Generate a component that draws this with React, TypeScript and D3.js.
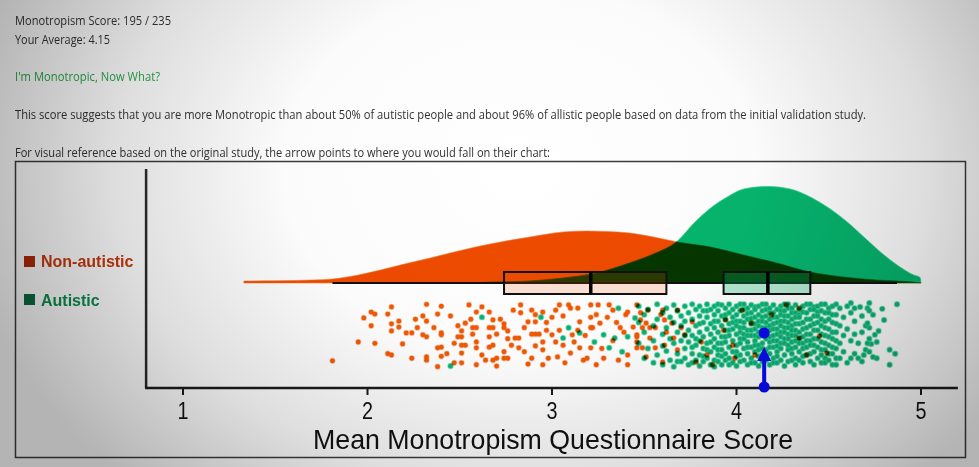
import React from 'react';
import * as d3 from 'd3';

const W = 979;
const H = 467;

const infoLines = [
  'Monotropism Score: 195 / 235',
  'Your Average: 4.15',
  "I'm Monotropic, Now What?",
  'This score suggests that you are more Monotropic than about 50% of autistic people and about 96% of allistic people based on data from the initial validation study.',
  'For visual reference based on the original study, the arrow points to where you would fall on their chart:',
];

const groupNames = ['Non-autistic', 'Autistic'];
const xTicks = [1, 2, 3, 4, 5];
const axisTitle = 'Mean Monotropism Questionnaire Score';
const userAverage = 4.15;

// density curves: [score, relative density]
const nonAutisticDensity: [number, number][] = [
  [1.33, 0.02], [1.5, 0.022], [1.7, 0.03], [1.81, 0.04], [1.95, 0.08], [2.07, 0.13], [2.2, 0.19],
  [2.34, 0.25], [2.47, 0.31], [2.61, 0.37], [2.75, 0.42], [2.88, 0.46], [3.06, 0.51], [3.19, 0.52],
  [3.3, 0.515], [3.42, 0.5], [3.55, 0.46], [3.68, 0.41], [3.86, 0.36], [4.04, 0.28], [4.22, 0.2],
  [4.4, 0.11], [4.58, 0.06], [4.76, 0.03], [4.94, 0.012], [5.0, 0.0],
];
const autisticDensity: [number, number][] = [
  [2.5, 0.0], [2.72, 0.01], [2.88, 0.02], [3.06, 0.05], [3.24, 0.1], [3.42, 0.2], [3.55, 0.29],
  [3.68, 0.42], [3.77, 0.6], [3.86, 0.75], [3.95, 0.86], [4.04, 0.94], [4.17, 0.965], [4.29, 0.94],
  [4.41, 0.85], [4.5, 0.75], [4.6, 0.61], [4.69, 0.46], [4.78, 0.31], [4.87, 0.18], [4.96, 0.08],
  [4.995, 0.055], [5.0, 0.0],
];

// box plots: [whiskerLow, q1, median, q3, whiskerHigh]
const nonAutisticBox = [1.81, 2.74, 3.21, 3.62, 4.87];
const autisticBox = [3.25, 3.93, 4.17, 4.4, 4.87];

// individual scores: [score, jitter 0..1]
const nonAutisticDots: [number, number][] = [
  [1.81, .89], [1.95, .60], [2.04, .62], [1.98, .23], [2.02, .14], [2.04, .17], [2.02, .35], [2.13, .06],
  [2.11, .17], [2.13, .32], [2.17, .28], [2.13, .43], [2.17, .37], [2.19, .63], [2.11, .78], [2.13, .80],
  [2.21, .46], [2.24, .46], [2.24, .85], [2.26, .25], [2.27, .38], [2.30, .20], [2.30, .49], [2.32, .52],
  [2.32, .02], [2.32, .28], [2.32, .83], [2.32, .88], [2.36, .38], [2.38, .17], [2.40, .05], [2.40, .46],
  [2.40, .49], [2.38, .69], [2.40, .68], [2.38, .98], [2.40, .82], [2.43, .78], [2.47, .62], [2.47, .92],
  [2.49, .35], [2.49, .52], [2.51, .43], [2.51, .52], [2.51, .65], [2.51, .77], [2.51, .92], [2.53, .31],
  [2.53, .65], [2.55, .03], [2.57, .38], [2.57, .48], [2.59, .38], [2.59, .60], [2.59, .69], [2.59, .14],
  [2.62, .06], [2.62, .80], [2.59, .95],
  [2.66, .14], [2.68, .26], [2.66, .38], [2.68, .38], [2.66, .52], [2.68, .65], [2.66, .68], [2.64, .88],
  [2.68, .88], [2.70, .85], [2.70, .97], [2.72, .25], [2.74, .32], [2.74, .38], [2.76, .43], [2.76, .55],
  [2.74, .75], [2.74, .85], [2.76, .85], [2.79, .11], [2.80, .54], [2.82, .54], [2.82, .69], [2.83, .03],
  [2.83, .15], [2.85, .38], [2.87, .29], [2.89, .11], [2.89, .48], [2.89, .85], [2.87, .94], [2.91, .18],
  [2.91, .29], [2.91, .48], [2.91, .66], [2.93, .48], [2.95, .14], [2.95, .60], [2.95, .72], [2.95, .95],
  [2.97, .42], [2.98, .85], [3.00, .22], [3.00, .49], [3.02, .11], [3.02, .60], [3.03, .83], [3.04, .03],
  [3.04, .42], [3.06, .65], [3.09, .03], [3.10, .08], [3.10, .77], [3.11, .49], [3.14, .08], [3.14, .42],
  [3.15, .69], [3.15, .29], [3.17, .88], [3.19, .85], [3.21, .03], [3.21, .22], [3.21, .38],
  [3.21, .69], [3.22, .38], [3.24, .18], [3.25, .03], [3.26, .31], [3.28, .85], [3.30, .22], [3.31, .03],
  [3.33, .11], [3.37, .38], [3.40, .18], [3.41, .14], [3.41, .80], [3.44, .37], [3.46, .52], [3.46, .69],
  [3.41, .95],
  [3.46, .03], [3.48, .15], [3.52, .11], [3.48, .26], [3.51, .31], [3.49, .38], [3.53, .38], [3.46, .49],
  [3.53, .54], [3.46, .60], [3.49, .69], [3.51, .83], [3.56, .69], [3.56, .38], [3.59, .18], [3.60, .11],
  [3.61, .26], [3.62, .45], [3.61, .65], [3.60, .91], [3.66, .54], [3.65, .31], [3.68, .72], [3.68, .11],
  [3.70, .38], [3.72, .49], [3.76, .29], [3.78, .91], [3.81, .60], [3.84, .80], [3.87, .95], [3.93, .42],
  [3.94, .26], [3.98, .65], [3.99, .85], [4.03, .11], [4.08, .31], [4.10, .80], [4.19, .18], [4.27, .03],
  [4.34, .08], [4.34, .54], [4.45, .51], [4.38, .80], [4.49, .77],
  [2.97, .30], [3.06, .20], [3.12, .60], [3.18, .50], [3.27, .70], [3.33, .58], [3.36, .88], [3.39, .45],
  [2.85, .75], [2.78, .65], [2.70, .48], [2.56, .25], [2.45, .20], [3.07, .92], [3.24, .95], [3.35, .30],
];

const autisticScattered: [number, number][] = [
  [2.45, .97], [2.62, .22], [2.94, .22], [3.06, .54], [3.09, .38], [3.15, .46], [3.23, .60], [3.28, .49],
  [3.31, .69], [3.34, .54], [3.36, .08], [3.38, .75], [3.41, .52], [3.45, .23],
  [4.87, .02], [4.83, .72], [4.86, .78], [4.83, .95], [4.79, .09], [4.80, .26], [4.74, .18], [4.77, .43],
  [4.75, .49], [4.72, .38], [4.76, .60], [4.73, .63], [4.76, .85], [4.74, .83], [4.69, .80], [4.67, .06],
];

// autistic scores grouped by score column: [score, jitters]
const autisticColumns: [number, number[]][] = [
  [3.47, [.05, .30, .62]], [3.50, [.18, .45, .85]], [3.52, [.10, .70]], [3.55, [.35, .58, .92]],
  [3.57, [.02, .25, .80]], [3.60, [.15, .48, .66, .95]], [3.62, [.08, .38, .74]], [3.64, [.22, .55, .88]],
  [3.66, [.03, .30, .62, .98]], [3.68, [.12, .45, .78, .90]], [3.70, [.20, .35, .58, .90]],
  [3.72, [.05, .28, .50, .70, .85]], [3.74, [.15, .42, .60, .95]], [3.76, [.02, .25, .50, .68, .78, .92]],
  [3.78, [.10, .35, .55, .65, .88]], [3.80, [.05, .20, .32, .45, .58, .80, .97]],
  [3.82, [.12, .30, .52, .70, .82, .90]], [3.84, [.02, .12, .22, .40, .62, .72, .85]],
  [3.86, [.10, .32, .48, .60, .75, .95]], [3.88, [.05, .18, .28, .38, .55, .68, .88, .98]],
  [3.90, [.02, .12, .28, .45, .62, .72, .80, .90]], [3.92, [.03, .20, .35, .52, .62, .72, .82, .95]],
  [3.94, [.08, .18, .25, .42, .52, .60, .78, .88]], [3.96, [.02, .15, .32, .42, .50, .68, .85, .95]],
  [3.98, [.10, .22, .30, .40, .58, .75, .92]], [4.00, [.05, .18, .28, .35, .48, .65, .75, .82, .97]],
  [4.02, [.02, .12, .28, .38, .45, .55, .62, .80, .90]], [4.04, [.02, .10, .20, .30, .38, .48, .55, .70, .88]],
  [4.06, [.08, .16, .25, .42, .50, .60, .68, .78, .95]], [4.08, [.03, .15, .24, .32, .42, .50, .68, .85, .92]],
  [4.10, [.06, .10, .22, .32, .40, .50, .58, .65, .75, .92]], [4.12, [.05, .18, .28, .35, .45, .52, .65, .72, .82, .97]],
  [4.14, [.02, .12, .22, .28, .38, .45, .62, .70, .80, .90]], [4.16, [.02, .10, .20, .30, .38, .48, .55, .72, .88]],
  [4.18, [.08, .15, .25, .35, .42, .52, .60, .68, .78, .95]], [4.20, [.03, .15, .22, .32, .40, .50, .58, .68, .85, .92]],
  [4.22, [.10, .22, .30, .40, .48, .58, .66, .75, .82, .92]], [4.24, [.05, .12, .18, .28, .35, .45, .52, .62, .70, .88]],
  [4.26, [.02, .12, .20, .28, .38, .45, .55, .62, .80, .97]], [4.28, [.02, .08, .20, .30, .38, .48, .55, .65, .72, .90]],
  [4.30, [.08, .15, .25, .35, .42, .50, .60, .70, .78, .88]], [4.32, [.03, .15, .22, .32, .42, .50, .58, .68, .85, .95]],
  [4.34, [.10, .18, .22, .32, .45, .55, .62, .75, .88]], [4.36, [.05, .14, .30, .40, .52, .62, .70, .82, .92]],
  [4.38, [.02, .15, .25, .38, .48, .58, .68, .80]], [4.40, [.02, .10, .25, .35, .48, .58, .65, .78, .90]],
  [4.42, [.06, .10, .20, .32, .42, .55, .65, .75, .95]], [4.44, [.05, .14, .20, .30, .42, .55, .68, .85]],
  [4.46, [.02, .12, .25, .35, .48, .60, .72, .80, .92]], [4.48, [.02, .15, .28, .38, .50, .62, .72, .85, .92]],
  [4.50, [.08, .15, .25, .40, .52, .65, .78, .88]], [4.52, [.05, .18, .30, .45, .55, .68, .78, .95]],
  [4.54, [.02, .18, .32, .45, .58, .70, .85, .95]], [4.56, [.08, .35, .62, .85]], [4.58, [.22, .50, .75]],
  [4.60, [.05, .40, .92]], [4.62, [.00, .15, .58, .85]], [4.64, [.08, .28, .48, .78]], [4.66, [.62, .85]],
  [4.68, [.20, .45, .90]], [4.70, [.35, .72]], [4.71, [.08, .31, .62]], [4.72, [.00, .12, .55, .75]],
];

const C = {
  orange: '#ef4b00',
  green: '#06b56e',
  orangeDot: '#f05a05',
  greenDot: '#10ad74',
  text: '#333333',
  link: '#2aa84a',
  blue: '#0a0af0',
};

export default function App() {
  React.useEffect(() => {
    document.body.style.margin = '0';
  }, []);

  const x = d3.scaleLinear().domain([1, 5]).range([183, 921]);
  const xAxisExtent = [0.8, 5.2];
  const yDens = d3.scaleLinear().domain([0, 1]).range([283, 183]);
  const yJit = d3.scaleLinear().domain([0, 1]).range([303, 368]);
  const axisY = 388;

  const area = d3
    .area<[number, number]>()
    .x((d) => x(d[0]))
    .y0(yDens(0))
    .y1((d) => yDens(d[1]))
    .curve(d3.curveMonotoneX);

  const autisticDots: [number, number][] = [
    ...autisticScattered,
    ...autisticColumns.flatMap(([s, js]) => js.map((j) => [s, j] as [number, number])),
  ];

  const boxTop = 272;
  const boxH = 22;
  const infoY = [25, 44, 81, 119, 157];
  const infoW = [156, 95, 145, 851, 535];
  const axisFont = "'Liberation Sans', Arial, sans-serif";

  const renderBox = (b: number[], color: string, op: number) => (
    <g>
      <rect x={x(b[1])} y={boxTop} width={x(b[2]) - x(b[1])} height={boxH} fill={color} fillOpacity={op} stroke="#111" strokeWidth={2} />
      <rect x={x(b[2])} y={boxTop} width={x(b[3]) - x(b[2])} height={boxH} fill={color} fillOpacity={op} stroke="#111" strokeWidth={2} />
      <line x1={x(b[2])} x2={x(b[2])} y1={boxTop} y2={boxTop + boxH} stroke="#000" strokeWidth={3.5} />
    </g>
  );

  return (
    <svg width={W} height={H} style={{ position: 'absolute', left: 0, top: 0, display: 'block' }}>
      <defs>
        <radialGradient id="vig" gradientUnits="userSpaceOnUse" cx={520} cy={170} r={560} gradientTransform="translate(520 170) scale(1 0.78) translate(-520 -170)">
          <stop offset="0" stopColor="#ffffff" />
          <stop offset="0.42" stopColor="#fbfbfb" />
          <stop offset="0.72" stopColor="#dedede" />
          <stop offset="1" stopColor="#b4b4b4" />
        </radialGradient>
      </defs>
      <rect x={0} y={0} width={W} height={H} fill="#ffffff" />

      {infoLines.map((t, i) => (
        <text key={i} x={15} y={infoY[i]} fontFamily="'Open Sans', 'Noto Sans', sans-serif" fontSize={12.5}
          fill={i === 2 ? C.link : C.text} textLength={infoW[i]} lengthAdjust="spacingAndGlyphs">{t}</text>
      ))}

      <rect x={15.5} y={161.5} width={950} height={296} fill="none" stroke="#3c3c3c" strokeWidth={1.5} />

      {/* legend */}
      <rect x={24} y={256} width={11} height={11} fill="#b02a08" />
      <text x={41} y={267} fontFamily={axisFont} fontWeight="bold" fontSize={16} fill="#c9380c">{groupNames[0]}</text>
      <rect x={24} y={294} width={11} height={11} fill="#0b6b40" />
      <text x={41} y={306} fontFamily={axisFont} fontWeight="bold" fontSize={16} fill="#0b8f50">{groupNames[1]}</text>

      {/* densities */}
      <path d={area(nonAutisticDensity) || ''} fill={C.orange} stroke="#f57a30" strokeWidth={0.6} />
      <path d={area(autisticDensity) || ''} fill={C.green} stroke="#30d08c" strokeWidth={0.8} style={{ mixBlendMode: 'multiply' }} />

      {/* whiskers */}
      <line x1={x(nonAutisticBox[0])} x2={x(nonAutisticBox[4])} y1={283} y2={283} stroke="#111" strokeWidth={2} />
      <line x1={x(autisticBox[0])} x2={x(autisticBox[4])} y1={283} y2={283} stroke="#111" strokeWidth={2} />
      {renderBox(nonAutisticBox, C.orange, 0.17)}
      {renderBox(autisticBox, C.green, 0.3)}

      {/* dots */}
      <g>
        {nonAutisticDots.map((d, i) => (
          <circle key={'o' + i} cx={x(d[0])} cy={yJit(d[1])} r={2.4} fill={C.orangeDot} stroke={C.orangeDot} strokeOpacity={0.35} strokeWidth={1.4} />
        ))}
      </g>
      <g style={{ mixBlendMode: 'multiply' }}>
        {autisticDots.map((d, i) => (
          <circle key={'g' + i} cx={x(d[0])} cy={yJit(d[1])} r={2.5} fill={C.greenDot} stroke="#2ccf92" strokeOpacity={0.5} strokeWidth={1.4} />
        ))}
      </g>

      {/* axes */}
      <line x1={x(xAxisExtent[0])} x2={x(xAxisExtent[0])} y1={169} y2={axisY} stroke="#2a2a2a" strokeWidth={2.5} />
      <line x1={x(xAxisExtent[0]) - 1} x2={x(xAxisExtent[1])} y1={axisY} y2={axisY} stroke="#1a1a1a" strokeWidth={2.5} />
      {xTicks.map((t) => (
        <g key={t}>
          <line x1={x(t)} x2={x(t)} y1={axisY} y2={axisY + 7} stroke="#1a1a1a" strokeWidth={2} />
          <text x={x(t)} y={419} textAnchor="middle" fontFamily={axisFont} fontSize={24} fill="#111"
            textLength={11} lengthAdjust="spacingAndGlyphs">{t}</text>
        </g>
      ))}
      <text x={313} y={449} fontFamily={axisFont} fontSize={28} fill="#111"
        textLength={480} lengthAdjust="spacingAndGlyphs">{axisTitle}</text>

      {/* arrow */}
      <g fill={C.blue} stroke="none">
        <line x1={x(userAverage)} x2={x(userAverage)} y1={axisY - 1} y2={358} stroke={C.blue} strokeWidth={4} />
        <path d={`M${x(userAverage)},347 L${x(userAverage) + 7},361 L${x(userAverage) - 7},361 Z`} />
        <circle cx={x(userAverage)} cy={333} r={5.5} />
        <circle cx={x(userAverage)} cy={axisY - 1} r={5.5} />
      </g>

      {/* vignette */}
      <rect x={0} y={0} width={W} height={H} fill="url(#vig)" style={{ mixBlendMode: 'multiply', pointerEvents: 'none' }} />
    </svg>
  );
}
